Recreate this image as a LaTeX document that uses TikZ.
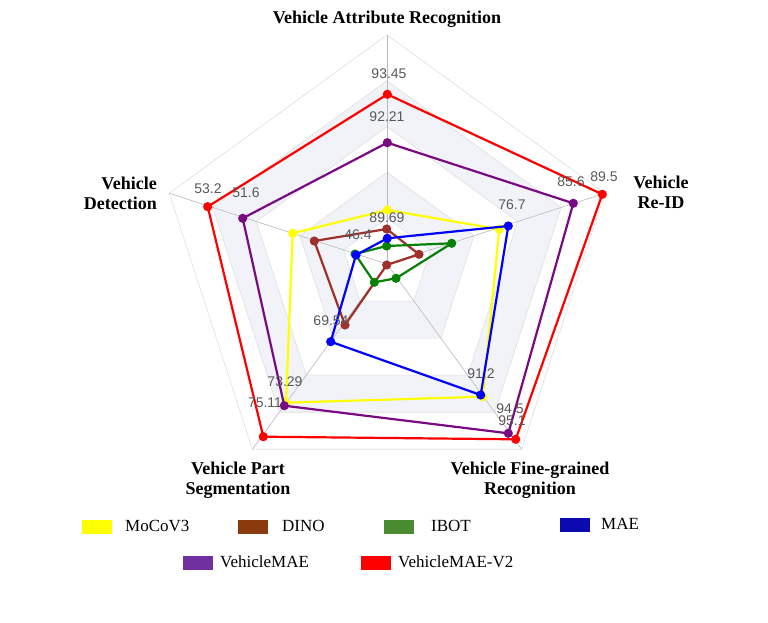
\documentclass[tikz,border=0pt]{standalone}
\usepackage{fontspec}
\setmainfont{Liberation Serif}
\newfontfamily\lblfont{Liberation Sans}
\definecolor{band}{HTML}{F1F3F9}
\definecolor{cyel}{HTML}{FFFF00}
\definecolor{cbrn}{HTML}{A0302A}
\definecolor{cgrn}{HTML}{078007}
\definecolor{cblu}{HTML}{0000FF}
\definecolor{cpur}{HTML}{7A0A82}
\definecolor{cred}{HTML}{FF0000}
\definecolor{lbrn}{HTML}{8B3A0E}
\definecolor{lgrn}{HTML}{4A8A30}
\definecolor{lblu}{HTML}{0A0AB0}
\definecolor{lpur}{HTML}{7030A0}
\begin{document}
\begin{tikzpicture}[x=1pt,y=-1pt,
  grid/.style={draw=gray!25,line width=0.6pt},
  axisl/.style={draw=gray!55,line width=0.6pt},
  ser/.style={line width=2.2pt,line join=round},
  val/.style={font=\lblfont\fontsize{14}{14}\selectfont,text=black!65,inner sep=0pt},
  ttl/.style={font=\bfseries\fontsize{18}{20}\selectfont,inner sep=0pt,align=center},
  leg/.style={font=\fontsize{17}{17}\selectfont,inner sep=0pt,anchor=west},
  sw/.style={minimum width=30pt,minimum height=14pt,inner sep=0pt}]
\useasboundingbox (0,0) rectangle (768,623);
\coordinate (c) at (387,264);
% grid bands
\foreach \r/\f in {229/white,183.2/band,137.4/white,91.6/band,45.8/white}{
  \filldraw[grid,fill=\f] ([shift={(-90:\r)}]c) -- ([shift={(-18:\r)}]c) -- ([shift={(54:\r)}]c) -- ([shift={(126:\r)}]c) -- ([shift={(198:\r)}]c) -- cycle;
}
\foreach \a in {-90,-18,54,126,198}{
  \draw[axisl] (c) -- ([shift={(\a:229)}]c);
}
% series: top, right, BR, BL, left
\newcommand{\series}[6]{%
  \draw[ser,draw=#1] #2 -- #3 -- #4 -- #5 -- #6 -- cycle;
  \foreach \p in {#2,#3,#4,#5,#6}{\fill[#1] \p circle (4.6);}}
\series{cbrn}{(386.7,229)}{(419,254.3)}{(386.7,265)}{(345,325)}{(314.3,241)}
\series{cgrn}{(386.7,246)}{(451.7,243.3)}{(396,278.3)}{(374.3,282.3)}{(355,254)}
\series{cyel}{(387.3,210)}{(499.3,229.3)}{(482.7,396.7)}{(286,402.7)}{(292.7,233.3)}
\series{cblu}{(387.3,238.3)}{(508.3,226)}{(480.7,395)}{(330.7,341.7)}{(356,255)}
\series{cpur}{(387.3,142.7)}{(573.3,203.3)}{(508.3,433.3)}{(284.3,405.7)}{(242.7,218.3)}
\series{cred}{(387.3,94.3)}{(602.3,194.3)}{(515.7,439.3)}{(263.3,436.7)}{(207.7,206.7)}
% value labels
\node[val] (v1) at (389,74) {93.45};
\node[val] (v2) at (387,117) {92.21};
\node[val] (v3) at (387,218) {89.69};
\node[val] (v4) at (358,235) {46.4};
\node[val] (v5) at (208,189) {53.2};
\node[val] (v6) at (246,193) {51.6};
\node[val] (v7) at (571,182) {85.6};
\node[val] (v8) at (604,177) {89.5};
\node[val] (v9) at (512,205) {76.7};
\node[val] (v10) at (481,374) {91.2};
\node[val] (v11) at (510,409) {94.5};
\node[val] (v12) at (512,421) {95.1};
\node[val] (v13) at (285,382) {73.29};
\node[val] (v14) at (265,403) {75.11};
\node[val] (v15) at (331,321) {69.54};
% titles
\node[ttl] (t1) at (387,19) {Vehicle Attribute Recognition};
\node[ttl,align=right,anchor=east] (t2) at (157,193) {Vehicle\\Detection};
\node[ttl] (t3) at (661,192) {Vehicle\\Re-ID};
\node[ttl] (t4) at (238,480) {Vehicle Part\\Segmentation};
\node[ttl] (t5) at (530,480) {Vehicle Fine-grained\\Recognition};
% legend
\node[sw,fill=cyel] (s1) at (97,527) {}; \node[leg] (l1) at (125,526) {MoCoV3};
\node[sw,fill=lbrn] (s2) at (253,527) {}; \node[leg] (l2) at (282,526) {DINO};
\node[sw,fill=lgrn] (s3) at (399,527) {}; \node[leg] (l3) at (431,526) {IBOT};
\node[sw,fill=lblu] (s4) at (575,525) {}; \node[leg] (l4) at (601,524) {MAE};
\node[sw,fill=lpur] (s5) at (198,563) {}; \node[leg] (l5) at (220,562) {VehicleMAE};
\node[sw,fill=cred] (s6) at (376,563) {}; \node[leg] (l6) at (398,562) {VehicleMAE-V2};
\end{tikzpicture}
\end{document}
